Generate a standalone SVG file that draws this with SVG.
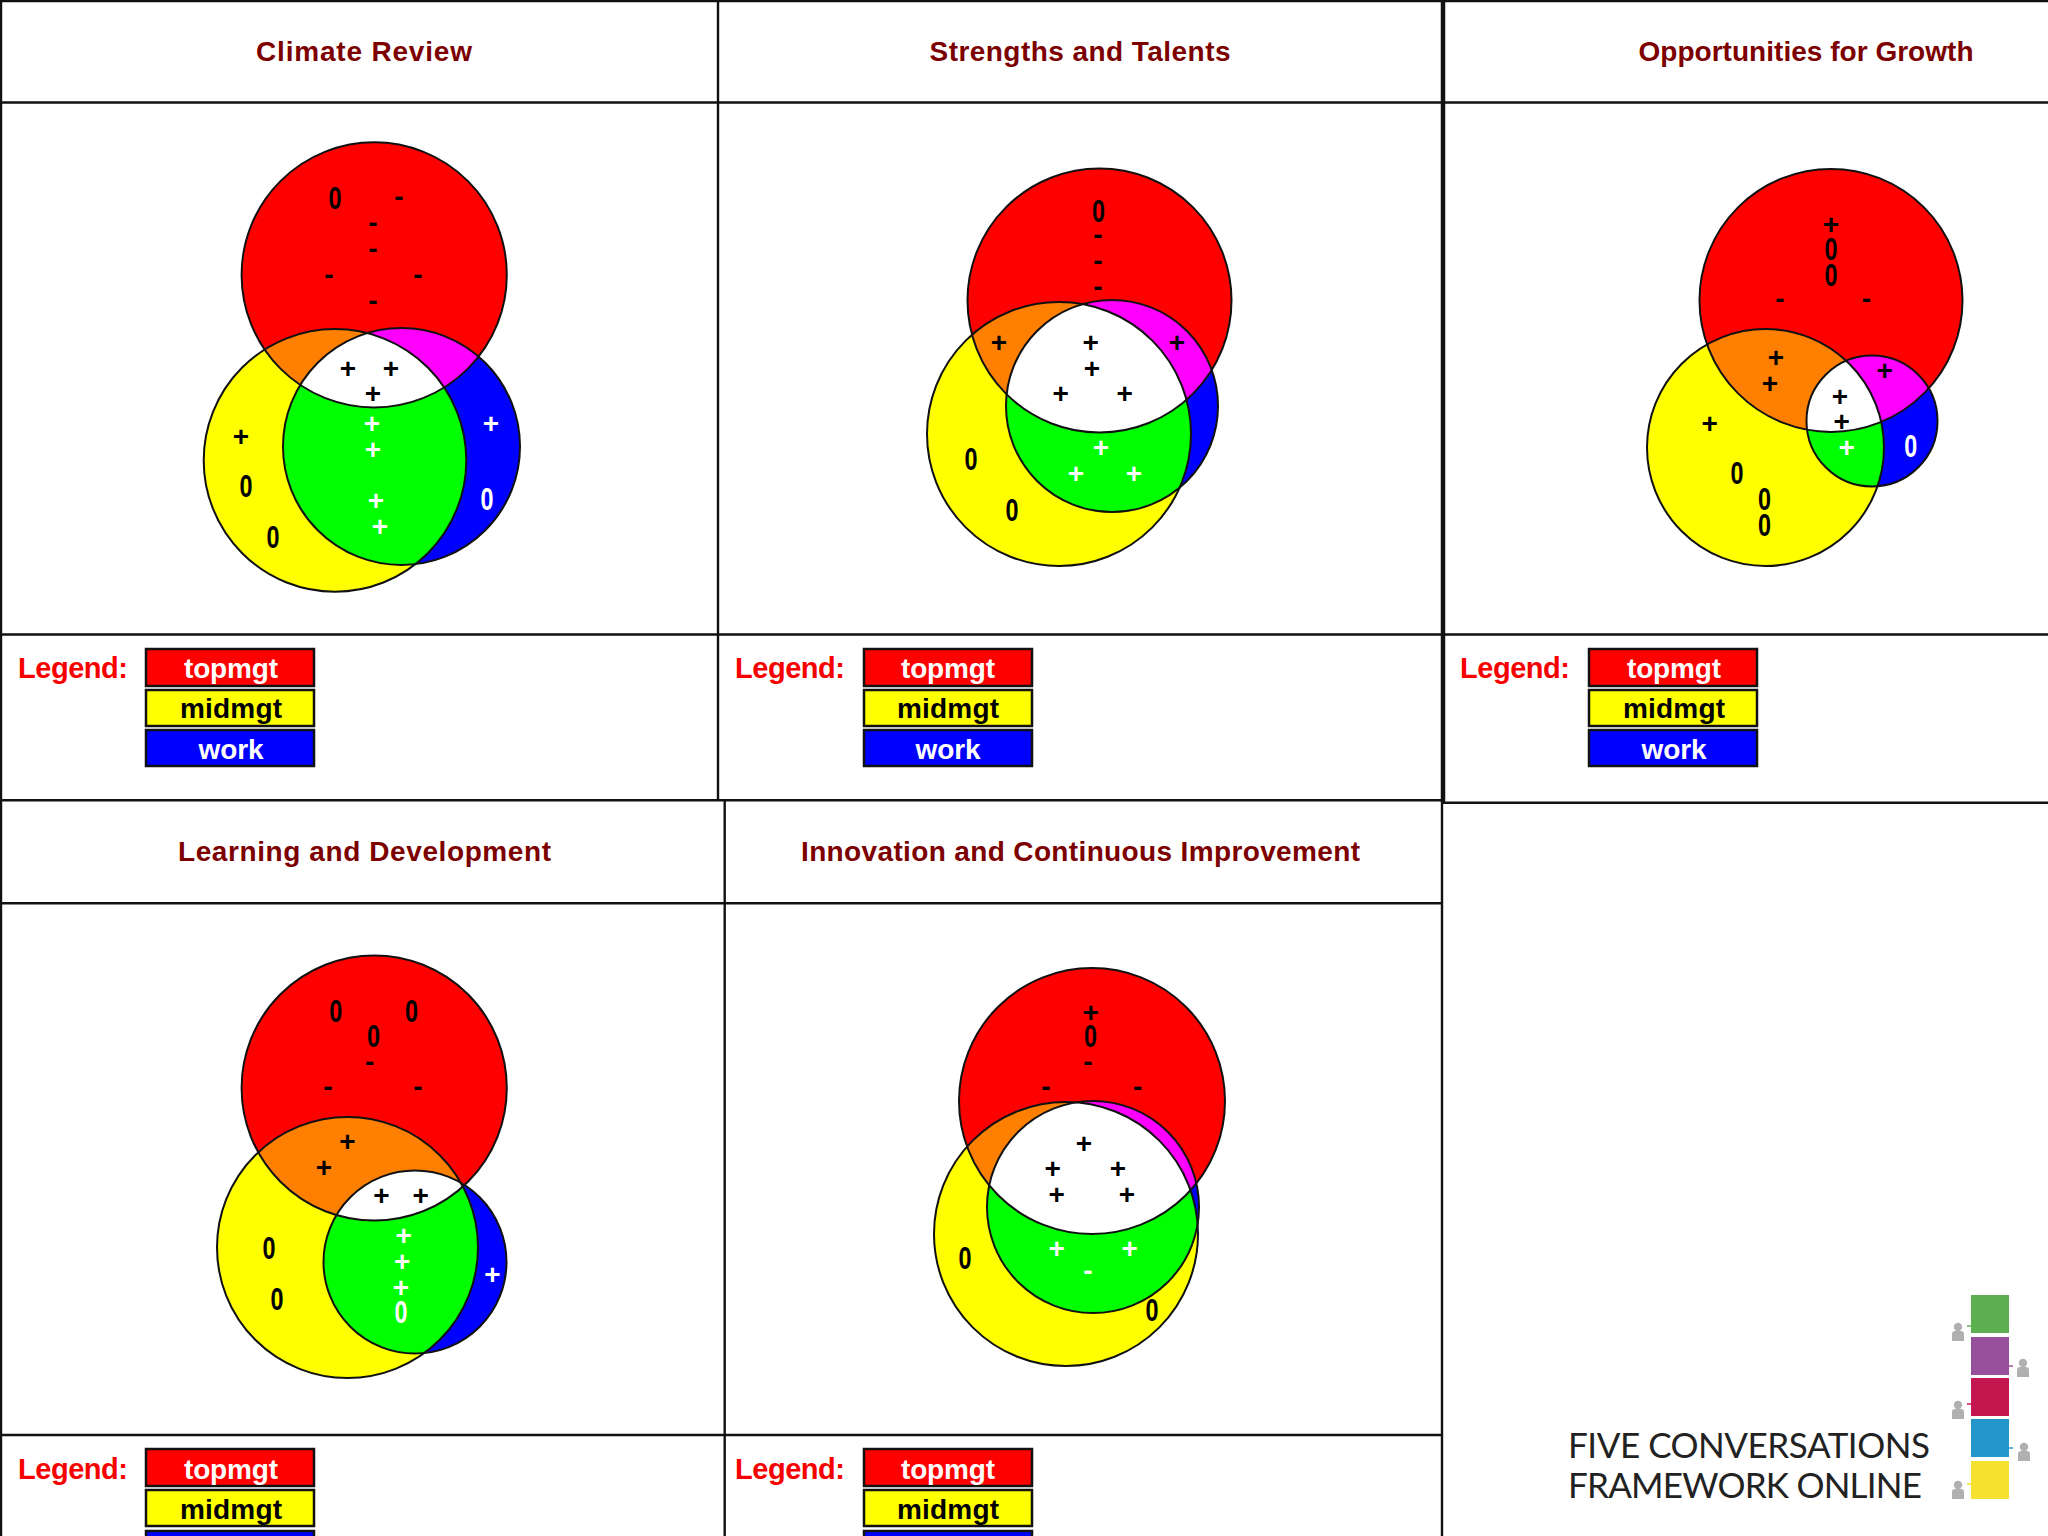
<svg xmlns="http://www.w3.org/2000/svg" xmlns:xlink="http://www.w3.org/1999/xlink" width="2048" height="1536" viewBox="0 0 2048 1536">
<style>
text{font-family:"Liberation Sans",Arial,sans-serif;font-weight:bold}
.grid{stroke:#111;stroke-width:2.4;fill:none}
.t{fill:#7d0000;font-size:28px;text-anchor:middle}
.lg{fill:#f80000;font-size:29px}
.b{stroke:#111;stroke-width:2.5}
.lt{font-size:28px;text-anchor:middle}
.w{fill:#fff}.k{fill:#000}
.s{font-size:28px;text-anchor:middle}
.z{font-size:31px}
.o{fill:none;stroke:#111;stroke-width:2}
.logo{font-family:Lato,"Noto Sans",sans-serif;font-weight:400;font-size:35px;fill:#222}
.p{fill:#b0b0b0}
</style>
<defs>
<clipPath id="r1"><circle cx="374.2" cy="274.9" r="132.6"/></clipPath><clipPath id="y1"><circle cx="335" cy="460.4" r="131.3"/></clipPath>
<clipPath id="r2"><circle cx="1099.5" cy="300.5" r="132"/></clipPath><clipPath id="y2"><circle cx="1059" cy="434" r="132"/></clipPath>
<clipPath id="r3"><circle cx="1831" cy="300.4" r="131.5"/></clipPath><clipPath id="y3"><circle cx="1765.5" cy="447.5" r="118.5"/></clipPath>
<clipPath id="r4"><circle cx="374.2" cy="1088" r="132.6"/></clipPath><clipPath id="y4"><circle cx="347.5" cy="1247.5" r="130.5"/></clipPath>
<clipPath id="r5"><circle cx="1092" cy="1101" r="133"/></clipPath><clipPath id="y5"><circle cx="1066" cy="1234" r="132"/></clipPath>
<g id="person"><circle cx="0" cy="-5" r="4.2" class="p"/><path d="M-6 9V2Q-6-1-3-1H3Q6-1 6 2V9Z" class="p"/></g>
</defs>
<rect width="2048" height="1536" fill="#fff"/>
<g id="grid">
<path class="grid" d="M0 1H2048M1 0V1536M0 102.5H1443M1443 102.5H2048M0 634.5H2048M718 0V800M0 800.3H1442M1442 802.7H2048M724.7 800V1536M0 903.3H1442M0 1435H1442M1442 800V1536"/>
<path d="M1443 0V802" stroke="#111" stroke-width="4.5" fill="none"/>
</g>

<g id="panel-climate">
<text class="t" x="364" y="61" textLength="216">Climate Review</text>
<circle cx="374.2" cy="274.9" r="132.6" fill="#f00"/><circle cx="335" cy="460.4" r="131.3" fill="#ff0"/><circle cx="401.5" cy="446.5" r="118.5" fill="#00f"/>
<circle cx="335" cy="460.4" r="131.3" fill="#ff8000" clip-path="url(#r1)"/><circle cx="401.5" cy="446.5" r="118.5" fill="#f0f" clip-path="url(#r1)"/><circle cx="401.5" cy="446.5" r="118.5" fill="#0f0" clip-path="url(#y1)"/>
<g clip-path="url(#r1)"><circle cx="401.5" cy="446.5" r="118.5" fill="#fff" clip-path="url(#y1)"/></g>
<circle class="o" cx="374.2" cy="274.9" r="132.6"/><circle class="o" cx="335" cy="460.4" r="131.3"/><circle class="o" cx="401.5" cy="446.5" r="118.5"/>
<g class="s k"><text class="z" x="335" y="209" textLength="13" lengthAdjust="spacingAndGlyphs">0</text><text x="399" y="206">-</text><text x="373" y="232">-</text><text x="373" y="258">-</text><text x="329" y="284">-</text><text x="418" y="284">-</text><text x="373" y="310">-</text><text x="348" y="378">+</text><text x="391" y="378">+</text><text x="373" y="403">+</text><text x="241" y="446">+</text><text class="z" x="246" y="497" textLength="13" lengthAdjust="spacingAndGlyphs">0</text><text class="z" x="273" y="548" textLength="13" lengthAdjust="spacingAndGlyphs">0</text></g>
<g class="s w"><text x="372" y="433">+</text><text x="373" y="459">+</text><text x="376" y="510">+</text><text x="380" y="536">+</text><text x="491" y="433">+</text><text class="z" x="487" y="510" textLength="13" lengthAdjust="spacingAndGlyphs">0</text></g>
<g id="legend-1"><text class="lg" x="18" y="678" textLength="110">Legend:</text>
<rect class="b" x="146" y="649" width="168" height="37" fill="#f00"/><rect class="b" x="146" y="690" width="168" height="36" fill="#ff0"/><rect class="b" x="146" y="730" width="168" height="36" fill="#00f"/>
<text class="lt w" x="231" y="678" textLength="94">topmgt</text><text class="lt k" x="231" y="718" textLength="102">midmgt</text><text class="lt w" x="231" y="759" textLength="65">work</text></g>
</g>

<g id="panel-strengths">
<text class="t" x="1080" y="61" textLength="301">Strengths and Talents</text>
<circle cx="1099.5" cy="300.5" r="132" fill="#f00"/><circle cx="1059" cy="434" r="132" fill="#ff0"/><circle cx="1112" cy="406" r="106" fill="#00f"/>
<circle cx="1059" cy="434" r="132" fill="#ff8000" clip-path="url(#r2)"/><circle cx="1112" cy="406" r="106" fill="#f0f" clip-path="url(#r2)"/><circle cx="1112" cy="406" r="106" fill="#0f0" clip-path="url(#y2)"/>
<g clip-path="url(#r2)"><circle cx="1112" cy="406" r="106" fill="#fff" clip-path="url(#y2)"/></g>
<circle class="o" cx="1099.5" cy="300.5" r="132"/><circle class="o" cx="1059" cy="434" r="132"/><circle class="o" cx="1112" cy="406" r="106"/>
<g class="s k"><text class="z" x="1098.5" y="222" textLength="13" lengthAdjust="spacingAndGlyphs">0</text><text x="1098" y="244">-</text><text x="1098" y="270">-</text><text x="1098" y="296">-</text><text x="999" y="352">+</text><text x="1177" y="352">+</text><text x="1090.6" y="352">+</text><text x="1092" y="378">+</text><text x="1060.6" y="403">+</text><text x="1124.6" y="403">+</text><text class="z" x="971" y="470" textLength="13" lengthAdjust="spacingAndGlyphs">0</text><text class="z" x="1012" y="521" textLength="13" lengthAdjust="spacingAndGlyphs">0</text></g>
<g class="s w"><text x="1101" y="457">+</text><text x="1076" y="483">+</text><text x="1134" y="483">+</text></g>
<g id="legend-2"><text class="lg" x="735" y="678" textLength="110">Legend:</text>
<rect class="b" x="864" y="649" width="168" height="37" fill="#f00"/><rect class="b" x="864" y="690" width="168" height="36" fill="#ff0"/><rect class="b" x="864" y="730" width="168" height="36" fill="#00f"/>
<text class="lt w" x="948" y="678" textLength="94">topmgt</text><text class="lt k" x="948" y="718" textLength="102">midmgt</text><text class="lt w" x="948" y="759" textLength="65">work</text></g>
</g>

<g id="panel-opportunities">
<text class="t" x="1806" y="61" textLength="335">Opportunities for Growth</text>
<circle cx="1831" cy="300.4" r="131.5" fill="#f00"/><circle cx="1765.5" cy="447.5" r="118.5" fill="#ff0"/><circle cx="1872" cy="421" r="65.5" fill="#00f"/>
<circle cx="1765.5" cy="447.5" r="118.5" fill="#ff8000" clip-path="url(#r3)"/><circle cx="1872" cy="421" r="65.5" fill="#f0f" clip-path="url(#r3)"/><circle cx="1872" cy="421" r="65.5" fill="#0f0" clip-path="url(#y3)"/>
<g clip-path="url(#r3)"><circle cx="1872" cy="421" r="65.5" fill="#fff" clip-path="url(#y3)"/></g>
<circle class="o" cx="1831" cy="300.4" r="131.5"/><circle class="o" cx="1765.5" cy="447.5" r="118.5"/><circle class="o" cx="1872" cy="421" r="65.5"/>
<g class="s k"><text x="1831" y="234">+</text><text class="z" x="1831" y="259.5" textLength="13" lengthAdjust="spacingAndGlyphs">0</text><text class="z" x="1831" y="285.6" textLength="13" lengthAdjust="spacingAndGlyphs">0</text><text x="1780" y="308">-</text><text x="1866.4" y="308">-</text><text x="1776" y="366.6">+</text><text x="1770" y="392.7">+</text><text x="1884.7" y="379.6">+</text><text x="1840" y="405.8">+</text><text x="1841.6" y="430.6">+</text><text x="1709.7" y="433.2">+</text><text class="z" x="1737" y="484" textLength="13" lengthAdjust="spacingAndGlyphs">0</text><text class="z" x="1764.5" y="510" textLength="13" lengthAdjust="spacingAndGlyphs">0</text><text class="z" x="1764.5" y="536" textLength="13" lengthAdjust="spacingAndGlyphs">0</text></g>
<g class="s w"><text x="1846.8" y="456.7">+</text><text class="z" x="1910.8" y="457" textLength="13" lengthAdjust="spacingAndGlyphs">0</text></g>
<g id="legend-3"><text class="lg" x="1460" y="678" textLength="110">Legend:</text>
<rect class="b" x="1589" y="649" width="168" height="37" fill="#f00"/><rect class="b" x="1589" y="690" width="168" height="36" fill="#ff0"/><rect class="b" x="1589" y="730" width="168" height="36" fill="#00f"/>
<text class="lt w" x="1674" y="678" textLength="94">topmgt</text><text class="lt k" x="1674" y="718" textLength="102">midmgt</text><text class="lt w" x="1674" y="759" textLength="65">work</text></g>
</g>

<g id="panel-learning">
<text class="t" x="364.5" y="861" textLength="373">Learning and Development</text>
<circle cx="374.2" cy="1088" r="132.6" fill="#f00"/><circle cx="347.5" cy="1247.5" r="130.5" fill="#ff0"/><circle cx="415" cy="1262" r="91.5" fill="#00f"/>
<circle cx="347.5" cy="1247.5" r="130.5" fill="#ff8000" clip-path="url(#r4)"/><circle cx="415" cy="1262" r="91.5" fill="#f0f" clip-path="url(#r4)"/><circle cx="415" cy="1262" r="91.5" fill="#0f0" clip-path="url(#y4)"/>
<g clip-path="url(#r4)"><circle cx="415" cy="1262" r="91.5" fill="#fff" clip-path="url(#y4)"/></g>
<circle class="o" cx="374.2" cy="1088" r="132.6"/><circle class="o" cx="347.5" cy="1247.5" r="130.5"/><circle class="o" cx="415" cy="1262" r="91.5"/>
<g class="s k"><text class="z" x="335.7" y="1022" textLength="13" lengthAdjust="spacingAndGlyphs">0</text><text class="z" x="411.4" y="1022" textLength="13" lengthAdjust="spacingAndGlyphs">0</text><text class="z" x="373.5" y="1047" textLength="13" lengthAdjust="spacingAndGlyphs">0</text><text x="369.6" y="1071">-</text><text x="327.8" y="1096">-</text><text x="418" y="1096">-</text><text x="347.4" y="1151">+</text><text x="324" y="1177">+</text><text x="381.4" y="1205">+</text><text x="420.6" y="1205">+</text><text class="z" x="269" y="1258.6" textLength="13" lengthAdjust="spacingAndGlyphs">0</text><text class="z" x="277" y="1310" textLength="13" lengthAdjust="spacingAndGlyphs">0</text></g>
<g class="s w"><text x="403.6" y="1245">+</text><text x="402.3" y="1271">+</text><text x="401" y="1297">+</text><text class="z" x="401" y="1323" textLength="13" lengthAdjust="spacingAndGlyphs">0</text><text x="492.4" y="1284">+</text></g>
<g id="legend-4"><text class="lg" x="18" y="1479" textLength="110">Legend:</text>
<rect class="b" x="146" y="1449" width="168" height="37" fill="#f00"/><rect class="b" x="146" y="1490" width="168" height="36" fill="#ff0"/><rect class="b" x="146" y="1531" width="168" height="12" fill="#00f"/>
<text class="lt w" x="231" y="1479" textLength="94">topmgt</text><text class="lt k" x="231" y="1519" textLength="102">midmgt</text></g>
</g>

<g id="panel-innovation">
<text class="t" x="1080.5" y="861" textLength="559">Innovation and Continuous Improvement</text>
<circle cx="1092" cy="1101" r="133" fill="#f00"/><circle cx="1066" cy="1234" r="132" fill="#ff0"/><circle cx="1093" cy="1207" r="106" fill="#00f"/>
<circle cx="1066" cy="1234" r="132" fill="#ff8000" clip-path="url(#r5)"/><circle cx="1093" cy="1207" r="106" fill="#f0f" clip-path="url(#r5)"/><circle cx="1093" cy="1207" r="106" fill="#0f0" clip-path="url(#y5)"/>
<g clip-path="url(#r5)"><circle cx="1093" cy="1207" r="106" fill="#fff" clip-path="url(#y5)"/></g>
<circle class="o" cx="1092" cy="1101" r="133"/><circle class="o" cx="1066" cy="1234" r="132"/><circle class="o" cx="1093" cy="1207" r="106"/>
<g class="s k"><text x="1090.6" y="1022">+</text><text class="z" x="1090.6" y="1047" textLength="13" lengthAdjust="spacingAndGlyphs">0</text><text x="1088" y="1071">-</text><text x="1046" y="1096">-</text><text x="1137.6" y="1096">-</text><text x="1084" y="1152.8">+</text><text x="1052.7" y="1178">+</text><text x="1118" y="1178">+</text><text x="1056.6" y="1203.8">+</text><text x="1127" y="1203.8">+</text><text class="z" x="965" y="1269" textLength="13" lengthAdjust="spacingAndGlyphs">0</text><text class="z" x="1152" y="1321" textLength="13" lengthAdjust="spacingAndGlyphs">0</text></g>
<g class="s w"><text x="1056.6" y="1257.6">+</text><text x="1129.8" y="1257.6">+</text><text x="1088" y="1280">-</text></g>
<g id="legend-5"><text class="lg" x="735" y="1479" textLength="110">Legend:</text>
<rect class="b" x="864" y="1449" width="168" height="37" fill="#f00"/><rect class="b" x="864" y="1490" width="168" height="36" fill="#ff0"/><rect class="b" x="864" y="1531" width="168" height="12" fill="#00f"/>
<text class="lt w" x="948" y="1479" textLength="94">topmgt</text><text class="lt k" x="948" y="1519" textLength="102">midmgt</text></g>
</g>

<g id="logo">
<rect x="1971" y="1295" width="38" height="38" fill="#5cb04f"/><rect x="1971" y="1337" width="38" height="38" fill="#97509c"/><rect x="1971" y="1378" width="38" height="38" fill="#c5174f"/><rect x="1971" y="1419" width="38" height="38" fill="#2397c9"/><rect x="1971" y="1461" width="38" height="38" fill="#f5e130"/>
<use xlink:href="#person" href="#person" x="1958" y="1332"/><use xlink:href="#person" href="#person" x="2023" y="1368"/><use xlink:href="#person" href="#person" x="1958" y="1410"/><use xlink:href="#person" href="#person" x="2024" y="1452"/><use xlink:href="#person" href="#person" x="1958" y="1490"/>
<path d="M1967 1326H1971" stroke="#5cb04f" stroke-width="1.5"/><path d="M2009 1366H2013" stroke="#97509c" stroke-width="1.5"/><path d="M1967 1404H1971" stroke="#c5174f" stroke-width="1.5"/><path d="M2009 1448H2013" stroke="#2397c9" stroke-width="1.5"/><path d="M1967 1484H1971" stroke="#f5e130" stroke-width="1.5"/>
<text class="logo" x="1568" y="1458" textLength="362">FIVE CONVERSATIONS</text>
<text class="logo" x="1568" y="1498" textLength="354">FRAMEWORK ONLINE</text>
</g>
</svg>
